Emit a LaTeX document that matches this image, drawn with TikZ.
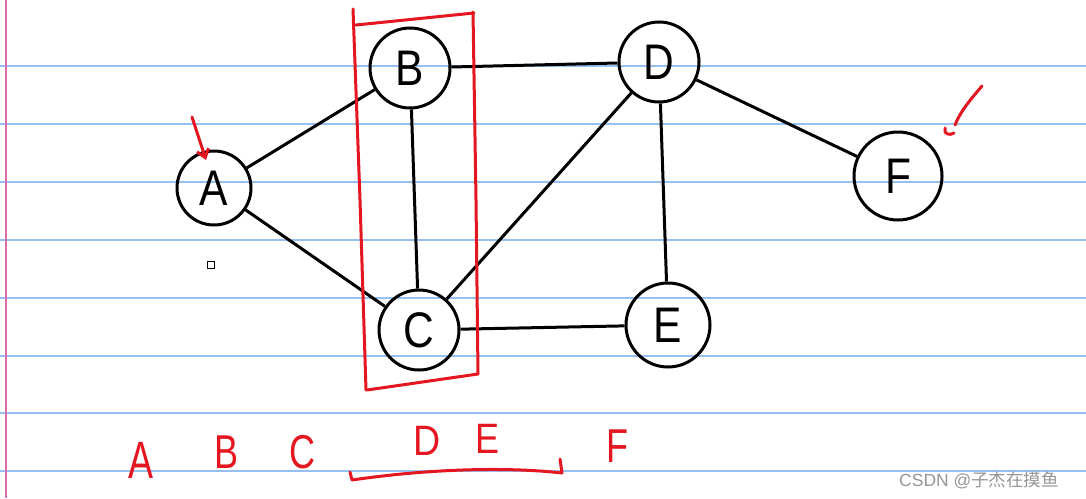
\documentclass[tikz,border=0pt]{standalone}
\usepackage{fontspec}
\setmainfont{Liberation Sans}
\newfontfamily\cjkwm{Noto Sans CJK SC}
\usetikzlibrary{arrows.meta}
\definecolor{ruleblue}{RGB}{150,192,240}
\definecolor{marginpink}{RGB}{215,110,175}
\definecolor{penred}{RGB}{228,22,32}
\definecolor{wmgray}{RGB}{150,150,150}
\tikzset{
  vtx/.style={circle, draw=black, line width=3pt, minimum size=80pt, inner sep=0pt,
    font=\fontsize{50}{50}\selectfont, text=black},
  edge/.style={line width=3pt, draw=black},
  rule/.style={line width=1.2pt, draw=ruleblue},
  pen/.style={line width=3pt, draw=penred, line cap=round, line join=round},
  redletter/.style={text=penred, inner sep=0pt, font=\fontsize{50}{50}\selectfont},
}
\begin{document}
\begin{tikzpicture}[x=1pt,y=-1pt]
\useasboundingbox (0,0) rectangle (1086,498);
\fill[white] (0,0) rectangle (1086,498);
% ruled lines
\foreach \yy in {66,124,182,240,298,356,413,471}
  \draw[rule] (0,\yy) -- (1086,\yy);
\draw[line width=1.3pt, draw=marginpink] (6,0) -- (6,498);
% nodes
\node[vtx, minimum size=74pt] (A) at (214,188) {\scalebox{0.85}[1]{A}};
\node[vtx] (B) at (410,68) {\scalebox{0.85}[1]{B}};
\node[vtx] (C) at (419,330) {\scalebox{0.85}[1]{C}};
\node[vtx] (D) at (659,62) {\scalebox{0.85}[1]{D}};
\node[vtx, minimum size=84pt] (E) at (668,325) {\scalebox{0.85}[1]{E}};
\node[vtx, minimum size=88pt] (F) at (898,176) {\scalebox{0.85}[1]{F}};
% edges
\draw[edge] (A) -- (B);
\draw[edge] (A) -- (C);
\draw[edge] (B) -- (C);
\draw[edge] (B) -- (D);
\draw[edge] (C) -- (D);
\draw[edge] (C) -- (E);
\draw[edge] (D) -- (E);
\draw[edge] (D) -- (F);
% small square
\node[draw=black, line width=0.9pt, minimum size=7pt, inner sep=0pt] (sq) at (211,265) {};
% red box (hand drawn)
\draw[pen] (353,9) -- (360,200) -- (366,390);
\draw[pen] (356,25) -- (474,13);
\draw[pen] (473,12) -- (476,200) -- (478,374);
\draw[pen] (478,374) -- (367,390);
% arrow to A
\coordinate (arrS) at (192,117);
\coordinate (arrE) at (206,160);
\draw[pen, -{Straight Barb[length=8pt,width=12pt]}] (arrS) -- (arrE);
% check mark near F
\coordinate (ck1) at (982,86);
\coordinate (ck2) at (955,125);
\draw[pen] (ck1) .. controls (970,100) and (960,112) .. (ck2);
\draw[pen] (945,128) .. controls (943,134) and (950,136) .. (954,133);
% bottom letters
\node[redletter] (bA) at (141,460) {\scalebox{0.75}[1.05]{A}};
\node[redletter] (bB) at (227,452) {\scalebox{0.72}[0.95]{B}};
\node[redletter] (bC) at (302,452) {\scalebox{0.72}[0.95]{C}};
\node[redletter] (bD) at (427,441) {\scalebox{0.75}[0.85]{D}};
\node[redletter] (bE) at (487,439) {\scalebox{0.72}[0.85]{E}};
\node[redletter] (bF) at (617,446) {\scalebox{0.72}[0.95]{F}};
% bracket
\draw[pen] (350,472) -- (352,480) .. controls (420,470) and (500,466) .. (562,473) -- (560,459);
% watermark
\node[anchor=west, text=wmgray, inner sep=0pt, font=\fontsize{17.5}{17.5}\selectfont] (wm) at (899,480) {CSDN @{\cjkwm 子杰在摸鱼}};
\end{tikzpicture}
\end{document}
